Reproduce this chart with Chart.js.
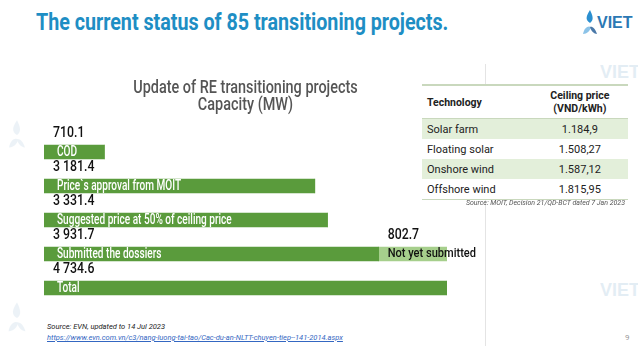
<!DOCTYPE html>
<html>
<head>
<meta charset="utf-8">
<script src="https://cdn.jsdelivr.net/npm/chart.js@4/dist/chart.umd.min.js"></script>
<style>
  html, body { margin: 0; padding: 0; background: #fff; }
  body { width: 638px; height: 359px; position: relative; overflow: hidden; font-family: Roboto, sans-serif; }
  .slide-title { position: absolute; left: 36px; top: 8px; font-size: 24px; font-weight: bold; white-space: nowrap;
                 color: #1e8ec4; transform: scaleX(0.82); transform-origin: left top; }
  .logo { position: absolute; left: 582px; top: 8px; }
  .logo span { position: absolute; left: 15px; top: 6px; font: bold 16px "Liberation Sans", Arial, sans-serif; color: #2b78b4; }
  .divider { position: absolute; left: 485px; top: 64px; width: 1px; height: 282px; background: #e4e4e4; }
  #chartWrap { position: absolute; left: 0; top: 70px; width: 500px; height: 240px; }
  table { position: absolute; left: 422px; top: 84px; width: 206px; border-collapse: collapse;
          background: #fff; font-size: 11px; color: #222; }
  th { font-weight: bold; font-size: 10.5px; text-align: left; padding: 3px 5px; height: 20px;
       border-top: 2px solid #c9d8bd; border-bottom: 1.5px solid #c9d8bd; }
  th.c, td.c { text-align: center; }
  td { height: 20px; padding: 0 5px; }
  tr.alt td { background: #e3efda; }
  tr.last td { border-bottom: 1.5px solid #c9d8bd; }
  .tsrc { position: absolute; left: 430px; top: 199px; width: 195px; text-align: right;
          font-size: 7px; font-style: italic; color: #555; }
  .src { position: absolute; left: 47px; top: 322px; font-size: 7.5px; font-style: italic; color: #222; }
  .src a { display: block; color: #3467c2; text-decoration: underline; margin-top: 2px; }
  .page { position: absolute; left: 625px; top: 333px; font-size: 8px; color: #9a9a9a; }
  .wm { position: absolute; opacity: 0.12; }
  .wmtext { position: absolute; font: bold 18px "Liberation Sans", Arial, sans-serif; color: #6aa0c8; opacity: 0.18; }
</style>
</head>
<body>
<div class="slide-title">The current status of 85 transitioning projects.</div>
<div class="logo">
  <svg width="16" height="30" viewBox="0 0 16 30">
    <path d="M8 2 C4 8 3 12 8 15 C12 12 11 8 8 2 Z" fill="#2b8fd0"/>
    <path d="M1 26 C2 20 6 17 9 19 C8 23 5 26 1 26 Z" fill="#8cc3e8"/>
    <path d="M15 26 C13 20 10 18 8 19 C9 23 12 26 15 26 Z" fill="#4a78a8"/>
  </svg>
  <span>VIET</span>
</div>

<svg class="wm" style="left:2px;top:118px" width="30" height="34" viewBox="0 0 16 30">
  <path d="M8 2 C4 8 3 12 8 15 C12 12 11 8 8 2 Z" fill="#6a9ac0"/>
  <path d="M1 26 C2 20 6 17 9 19 C8 23 5 26 1 26 Z" fill="#6a9ac0"/>
  <path d="M15 26 C13 20 10 18 8 19 C9 23 12 26 15 26 Z" fill="#6a9ac0"/>
</svg>
<svg class="wm" style="left:2px;top:300px" width="30" height="36" viewBox="0 0 16 30">
  <path d="M8 2 C4 8 3 12 8 15 C12 12 11 8 8 2 Z" fill="#6a9ac0"/>
  <path d="M1 26 C2 20 6 17 9 19 C8 23 5 26 1 26 Z" fill="#6a9ac0"/>
  <path d="M15 26 C13 20 10 18 8 19 C9 23 12 26 15 26 Z" fill="#6a9ac0"/>
</svg>
<div class="wmtext" style="left:600px;top:62px">VIET</div>
<div class="wmtext" style="left:600px;top:280px">VIET</div>

<div class="divider"></div>

<div id="chartWrap"><canvas id="capacityChart"></canvas></div>

<table>
  <tr><th>Technology</th><th class="c">Ceiling price<br>(VND/kWh)</th></tr>
  <tr class="alt"><td>Solar farm</td><td class="c">1.184,9</td></tr>
  <tr><td>Floating solar</td><td class="c">1.508,27</td></tr>
  <tr class="alt"><td>Onshore wind</td><td class="c">1.587,12</td></tr>
  <tr class="last"><td>Offshore wind</td><td class="c">1.815,95</td></tr>
</table>
<div class="tsrc">Source: MOIT, Decision 21/QD-BCT dated 7 Jan 2023</div>

<div class="src">Source: EVN, updated to 14 Jul 2023
  <a href="#">https://www.evn.com.vn/c3/nang-luong-tai-tao/Cac-du-an-NLTT-chuyen-tiep--141-2014.aspx</a>
</div>
<div class="page">9</div>

<script>
// Capacity by project stage (MW)
const stages = ['COD', 'Price`s approval from MOIT', 'Suggested price at 50% of ceiling price',
                'Submitted the dossiers', 'Total'];
const capacity = [710.1, 3181.4, 3331.4, 3931.7, 4734.6];
const pending = [0, 0, 0, 802.7, 0];
const pendingLabel = 'Not yet submitted';
const chartTitle = ['Update of RE transitioning projects', 'Capacity (MW)'];

const FONT = 'Roboto, sans-serif';

// "3181.4" -> "3 181.4"
function fmt(v) {
    const parts = v.toFixed(1).split('.');
    return parts[0].replace(/\B(?=(\d{3})+(?!\d))/g, ' ') + '.' + parts[1];
}

// the slide uses a condensed face, fake it by squeezing horizontally
function narrowText(ctx, text, x, y, sx) {
    ctx.save();
    ctx.translate(x, y);
    ctx.scale(sx, 1);
    ctx.fillText(text, 0, 0);
    ctx.restore();
}

const barLabels = {
    id: 'barLabels',
    afterDraw(chart) {
        const ctx = chart.ctx;
        const area = chart.chartArea;
        ctx.save();
        ctx.textBaseline = 'middle';

        // two-line chart title
        ctx.textAlign = 'center';
        ctx.fillStyle = '#555';
        ctx.font = '500 19px ' + FONT;
        chartTitle.forEach((line, i) => {
            narrowText(ctx, line, (area.left + area.right) / 2, area.top - 47 + i * 17, 0.76);
        });

        ctx.textAlign = 'left';
        chart.getDatasetMeta(0).data.forEach((bar, i) => {
            const top = bar.y - bar.height / 2;
            ctx.fillStyle = '#111';
            ctx.font = '500 15px ' + FONT;
            narrowText(ctx, fmt(capacity[i]), bar.base + 9, top - 12, 0.82);
            ctx.fillStyle = '#fff';
            ctx.font = '500 14px ' + FONT;
            narrowText(ctx, stages[i], bar.base + 13, bar.y, 0.72);
        });

        chart.getDatasetMeta(1).data.forEach((bar, i) => {
            if (!pending[i]) return;
            const top = bar.y - bar.height / 2;
            ctx.fillStyle = '#111';
            ctx.font = '500 15px ' + FONT;
            narrowText(ctx, fmt(pending[i]), bar.base + 9, top - 12, 0.82);
            ctx.font = '500 13.5px ' + FONT;
            narrowText(ctx, pendingLabel, bar.base + 9, bar.y, 0.82);
        });
        ctx.restore();
    }
};

new Chart(document.getElementById('capacityChart'), {
    type: 'bar',
    data: {
        labels: stages,
        datasets: [
            { label: 'Capacity', data: capacity, backgroundColor: '#5a9b3c', barThickness: 14 },
            { label: pendingLabel, data: pending, backgroundColor: '#a6cf8c', barThickness: 14 }
        ]
    },
    options: {
        indexAxis: 'y',
        responsive: true,
        maintainAspectRatio: false,
        animation: false,
        layout: { padding: { left: 44, right: 53, top: 65, bottom: 5 } },
        scales: {
            x: { stacked: true, min: 0, max: 4734.6, display: false },
            y: { stacked: true, display: false }
        },
        plugins: {
            legend: { display: false },
            tooltip: { enabled: false },
            title: { display: false }
        }
    },
    plugins: [barLabels]
});
</script>
</body>
</html>
